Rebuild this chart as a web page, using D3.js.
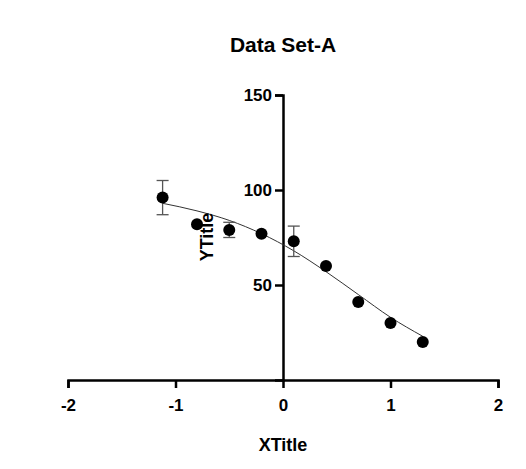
<!doctype html>
<html lang="en">
<head>
<meta charset="utf-8">
<script src="https://d3js.org/d3.v7.min.js"></script>
<style>
body { margin: 0; background: #fff; }
text { font-family: "Liberation Sans", Arial, sans-serif; font-weight: bold; }
</style>
</head>
<body>
<svg id="chart" width="526" height="469"></svg>
<script>
// data
var xs   = [-1.12, -0.8, -0.5, -0.2, 0.1, 0.4, 0.7, 1.0, 1.3]
var ys   = [96, 82, 79, 77, 73, 60, 41, 30, 20]
var errs = [9, 0, 4, 0, 8, 0, 0, 0, 0]
var fitX = [-1.12, -0.8, -0.5, -0.2, 0.1, 0.4, 0.7, 1.0, 1.3]
var fitY = [93, 89, 84, 77, 68, 57, 45, 33, 23]
var xTicks = [-2, -1, 0, 1, 2]
var yTicks = [50, 100, 150]

var svg = d3.select('#chart')
var x = d3.scaleLinear().domain([-2, 2]).range([68, 498])
var y = d3.scaleLinear().domain([0, 150]).range([380, 95])

var xAxis = svg.append('g').attr('transform', 'translate(0,380)')
	.call(d3.axisBottom(x).tickValues(xTicks).tickSize(8).tickFormat(function(d) { return String(d) }))
var yAxis = svg.append('g').attr('transform', 'translate(' + x(0) + ',0)')
	.call(d3.axisLeft(y).tickValues(yTicks).tickSize(8))
;[xAxis, yAxis].forEach(function(a) {
	a.select('.domain').attr('stroke', '#000').attr('stroke-width', 2.5)
	a.selectAll('.tick line').attr('stroke', '#000').attr('stroke-width', 2.5)
	a.selectAll('.tick text').attr('font-size', 17).attr('fill', '#000')
})
xAxis.selectAll('.tick text').attr('dy', '1.2em')

// fit curve
svg.append('path')
	.datum(d3.zip(fitX, fitY))
	.attr('fill', 'none').attr('stroke', '#333').attr('stroke-width', 1)
	.attr('d', d3.line().x(function(d) { return x(d[0]) }).y(function(d) { return y(d[1]) }).curve(d3.curveMonotoneX))

// error bars
var pts = d3.range(xs.length).map(function(i) { return {x: xs[i], y: ys[i], e: errs[i]} })
var eb = svg.append('g').attr('stroke', '#555').attr('stroke-width', 1.3)
pts.filter(function(d) { return d.e > 0 }).forEach(function(d) {
	var cx = x(d.x)
	eb.append('line').attr('x1', cx).attr('x2', cx).attr('y1', y(d.y - d.e)).attr('y2', y(d.y + d.e))
	eb.append('line').attr('x1', cx - 6).attr('x2', cx + 6).attr('y1', y(d.y - d.e)).attr('y2', y(d.y - d.e))
	eb.append('line').attr('x1', cx - 6).attr('x2', cx + 6).attr('y1', y(d.y + d.e)).attr('y2', y(d.y + d.e))
})

svg.selectAll('circle').data(pts).enter().append('circle')
	.attr('cx', function(d) { return x(d.x) })
	.attr('cy', function(d) { return y(d.y) })
	.attr('r', 6).attr('fill', '#000')

svg.append('text').attr('x', 283).attr('y', 52).attr('text-anchor', 'middle').attr('font-size', 21).text('Data Set-A')
svg.append('text').attr('x', 283).attr('y', 451).attr('text-anchor', 'middle').attr('font-size', 18).text('XTitle')
svg.append('text').attr('transform', 'translate(213,237) rotate(-90)').attr('text-anchor', 'middle').attr('font-size', 18).text('YTitle')
</script>
</body>
</html>
